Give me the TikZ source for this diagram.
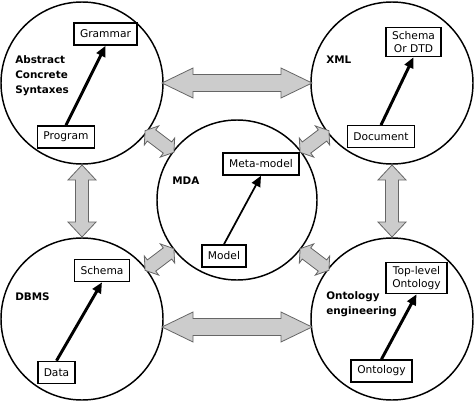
\documentclass[tikz,border=0pt]{standalone}
\usepackage{fontspec}
\setmainfont{DejaVu Sans}
\usetikzlibrary{arrows.meta,calc}

\tikzset{
  realm/.style={circle, draw, line width=1.1pt, minimum size=121.5pt, inner sep=0pt},
  term/.style={draw, line width=1.2pt, fill=white, font=\fontsize{8}{9.5}\selectfont,
    inner xsep=4.5pt, inner ysep=3pt, minimum height=16.5pt, align=center},
  tag/.style={font=\bfseries\fontsize{7.8}{11.25}\selectfont, anchor=west, align=left, inner sep=0pt},
  conform/.style={line width=2.2pt, -{Triangle[length=8pt, width=7pt]}},
  bridge/.style={fill=gray!40, draw=black!60, line width=0.6pt, line join=miter},
  % fat double arrow: half length / head length / half head width / half shaft width
  pics/twinarrow/.style args={#1/#2/#3/#4}{code={
    \draw[bridge] (-#1,0) -- (-#1+#2,#3) -- (-#1+#2,#4) -- (#1-#2,#4) -- (#1-#2,#3)
      -- (#1,0) -- (#1-#2,-#3) -- (#1-#2,-#4) -- (-#1+#2,-#4) -- (-#1+#2,-#3) -- cycle;
  }}
}

\begin{document}
\begin{tikzpicture}[x=0.75pt, y=-0.75pt]
    \useasboundingbox (0,0) rectangle (474,403);

    % the five circles
    \node[realm] (syntax) at (82,83) {};
    \node[realm] (xml) at (392,83) {};
    \node[realm] (dbms) at (82,319) {};
    \node[realm] (onto) at (392,319) {};
    \node[realm, minimum size=120pt] (mda) at (237,200) {};

    % grey double arrows between the circles
    \pic at ($(syntax)!0.5!(xml)$) {twinarrow=75/31/15/8.5};
    \pic at ($(dbms)!0.5!(onto) + (0,8)$) {twinarrow=75/31/15/8.5};
    \pic[rotate=90] at ($(syntax)!0.5!(dbms)$) {twinarrow=36/15/14/6.5};
    \pic[rotate=90] at ($(xml)!0.5!(onto)$) {twinarrow=36/15/14/6.5};
    \pic[rotate=-37] at ($(syntax)!0.5!(mda)$) {twinarrow=18/8/12/7};
    \pic[rotate=37] at ($(xml)!0.5!(mda)$) {twinarrow=18/8/12/7};
    \pic[rotate=37] at ($(dbms)!0.5!(mda)$) {twinarrow=18/8/12/7};
    \pic[rotate=-37] at ($(onto)!0.5!(mda)$) {twinarrow=18/8/12/7};

    % labels of the circles
    \node[tag] at (15,76) {Abstract\\Concrete\\Syntaxes};
    \node[tag] at (326,60) {XML};
    \node[tag] at (15,297) {DBMS};
    \node[tag] at (326,304.5) {Ontology\\engineering};
    \node[tag] at (172,181) {MDA};

    % Abstract Concrete Syntaxes
    \node[term] (grammar) at (105.5,34) {Grammar};
    \node[term] (program) at (66,137) {Program};
    \draw[conform] (program.north) -- (grammar.south);

    % XML
    \node[term] (dtd) at (413.5,42) {Schema\\Or DTD};
    \node[term, line width=0.7pt] (document) at (381,136.5) {Document};
    \draw[conform] (document.north) -- (dtd.south);

    % DBMS
    \node[term] (schema) at (102,270.5) {Schema};
    \node[term] (data) at (56.5,372.5) {Data};
    \draw[conform] (data.north) -- (schema.south);

    % Ontology engineering
    \node[term] (toplevel) at (416.5,278) {Top-level\\Ontology};
    \node[term] (ontology) at (381.5,371) {Ontology};
    \draw[conform] (ontology.north) -- (toplevel.south);

    % MDA
    \node[term] (metamodel) at (261,164) {Meta-model};
    \node[term] (model) at (224,256) {Model};
    \draw[conform, line width=1.3pt] (model.north) -- (metamodel.south);
\end{tikzpicture}
\end{document}
